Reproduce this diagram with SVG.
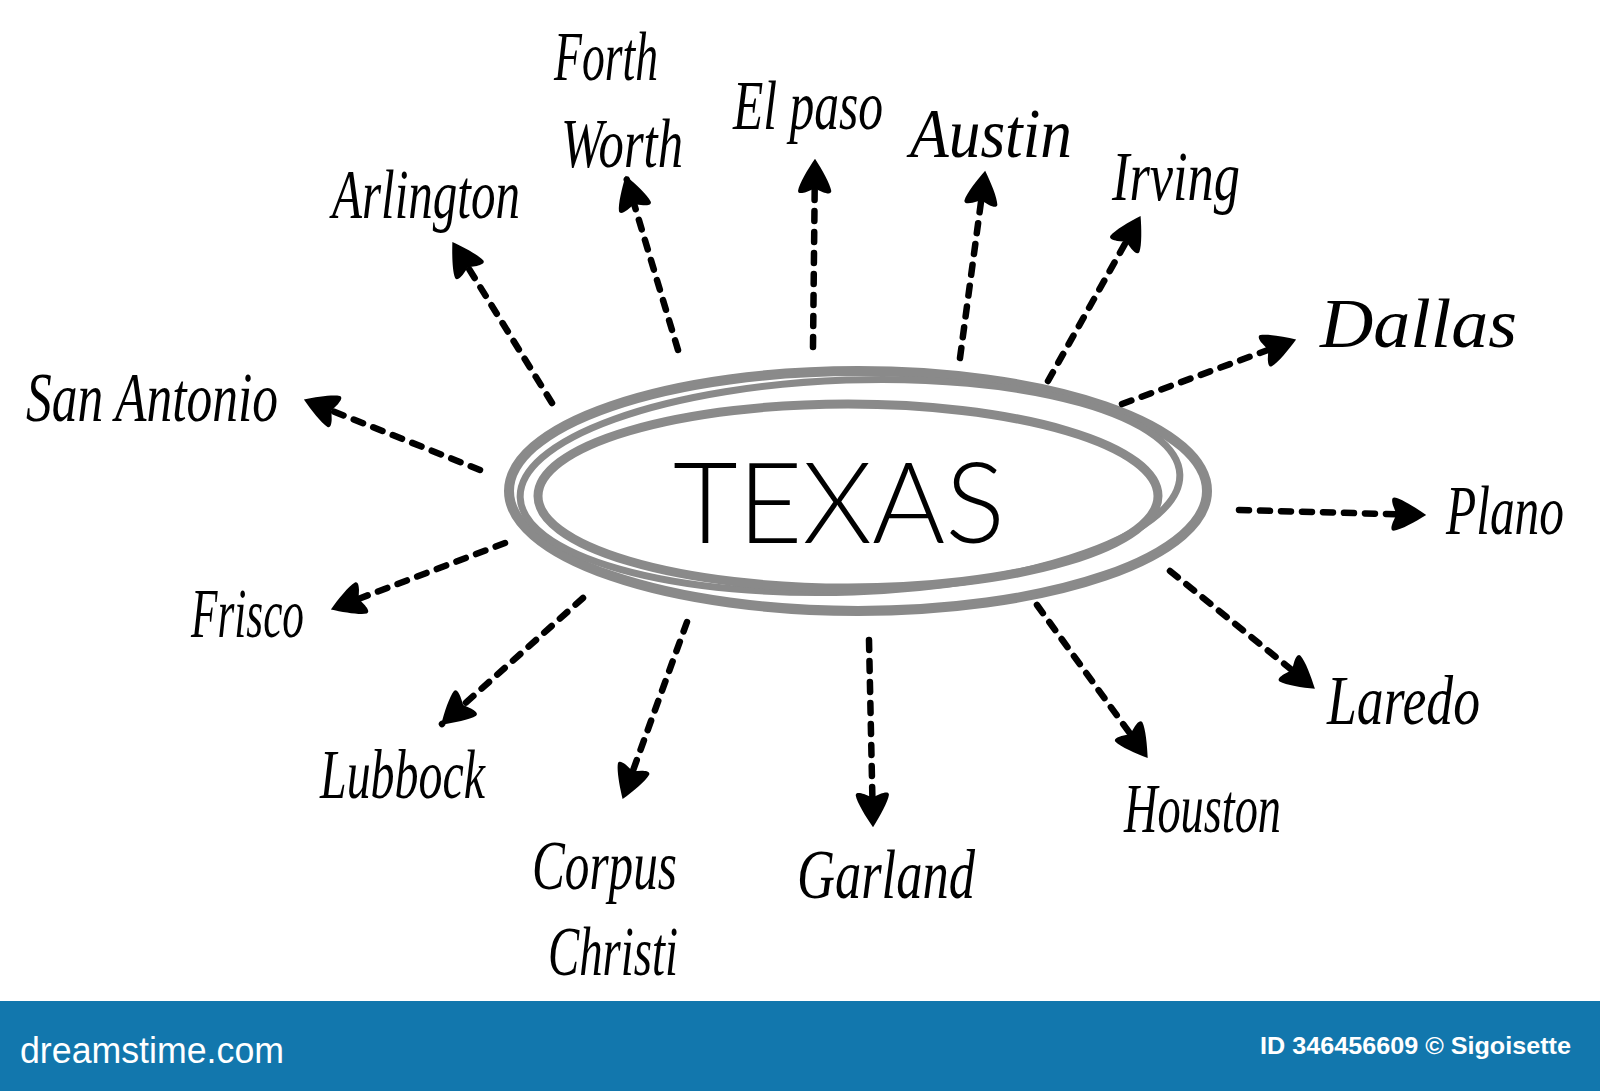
<svg xmlns="http://www.w3.org/2000/svg" width="1600" height="1091" viewBox="0 0 1600 1091">
<style>
.bg{fill:#ffffff}
.ring{fill:none;stroke:#8a8a8a;stroke-linecap:round}
.conn path{fill:none;stroke:#000;stroke-width:6.5;stroke-linecap:round;stroke-dasharray:10 11;marker-end:url(#head)}
.lbl{font-family:"Liberation Serif","DejaVu Serif",serif;font-style:italic;font-size:70px;fill:#000}
.title{font-family:"Lato","Liberation Sans",sans-serif;font-weight:300;font-size:112px;fill:#000}
.bar{fill:#1277ad}
.brand{font-family:"Liberation Sans","DejaVu Sans",sans-serif;font-size:36px;fill:#fff}
.credit{font-family:"Liberation Sans","DejaVu Sans",sans-serif;font-weight:bold;font-size:24px;fill:#fff}
</style>
<defs>
<marker id="head" markerUnits="userSpaceOnUse" viewBox="0 0 32 32" markerWidth="38" markerHeight="38" refX="30" refY="16" orient="auto">
<path d="M31,16 C22,10 10,3 4,2 C1,2 2,6 3,9 L6,16 L3,23 C2,26 1,30 4,30 C10,29 22,22 31,16 Z" fill="#000"/>
</marker>
</defs>
<rect class="bg" x="0" y="0" width="1600" height="1091"/>

<g id="texas">
<ellipse class="ring" cx="858" cy="491" rx="349" ry="120" stroke-width="10"/>
<ellipse class="ring" cx="850" cy="486" rx="330" ry="106" stroke-width="7" transform="rotate(-2 850 486)"/>
<ellipse class="ring" cx="848" cy="496" rx="310" ry="92" stroke-width="9"/>
<text class="title" x="673" y="543" textLength="332" lengthAdjust="spacingAndGlyphs">TEXAS</text>
</g>

<g id="connectors" class="conn">
<path d="M480,470 L305,400"/>
<path d="M552,403 L453,243"/>
<path d="M678,350 L626,177"/>
<path d="M813,347 L815,160"/>
<path d="M960,358 L985,172"/>
<path d="M1048,381 L1140,217"/>
<path d="M1122,404 L1295,340"/>
<path d="M1239,510 L1425,515"/>
<path d="M1170,571 L1314,688"/>
<path d="M1037,605 L1147,757"/>
<path d="M869,640 L873,826"/>
<path d="M687,622 L623,798"/>
<path d="M583,598 L442,724"/>
<path d="M505,543 L332,609"/>
</g>

<g id="san-antonio"><text class="lbl" x="26" y="421" textLength="252" lengthAdjust="spacingAndGlyphs">San Antonio</text></g>
<g id="arlington"><text class="lbl" x="332" y="218" textLength="188" lengthAdjust="spacingAndGlyphs">Arlington</text></g>
<g id="forth-worth">
<text class="lbl" x="554" y="80" textLength="104" lengthAdjust="spacingAndGlyphs">Forth</text>
<text class="lbl" x="561" y="167" textLength="122" lengthAdjust="spacingAndGlyphs">Worth</text>
</g>
<g id="el-paso"><text class="lbl" x="733" y="129" textLength="150" lengthAdjust="spacingAndGlyphs">El paso</text></g>
<g id="austin"><text class="lbl" x="910" y="157" textLength="162" lengthAdjust="spacingAndGlyphs">Austin</text></g>
<g id="irving"><text class="lbl" x="1112" y="200" textLength="128" lengthAdjust="spacingAndGlyphs">Irving</text></g>
<g id="dallas"><text class="lbl" x="1320" y="347" textLength="197" lengthAdjust="spacingAndGlyphs">Dallas</text></g>
<g id="plano"><text class="lbl" x="1446" y="534" textLength="118" lengthAdjust="spacingAndGlyphs">Plano</text></g>
<g id="laredo"><text class="lbl" x="1327" y="724" textLength="153" lengthAdjust="spacingAndGlyphs">Laredo</text></g>
<g id="houston"><text class="lbl" x="1124" y="832" textLength="157" lengthAdjust="spacingAndGlyphs">Houston</text></g>
<g id="garland"><text class="lbl" x="797" y="898" textLength="178" lengthAdjust="spacingAndGlyphs">Garland</text></g>
<g id="corpus-christi">
<text class="lbl" x="532" y="889" textLength="145" lengthAdjust="spacingAndGlyphs">Corpus</text>
<text class="lbl" x="548" y="975" textLength="130" lengthAdjust="spacingAndGlyphs">Christi</text>
</g>
<g id="lubbock"><text class="lbl" x="320" y="798" textLength="165" lengthAdjust="spacingAndGlyphs">Lubbock</text></g>
<g id="frisco"><text class="lbl" x="191" y="637" textLength="113" lengthAdjust="spacingAndGlyphs">Frisco</text></g>

<g id="footer">
<rect class="bar" x="0" y="1001" width="1600" height="90"/>
<text class="brand" x="20" y="1063" textLength="264" lengthAdjust="spacingAndGlyphs">dreamstime.com</text>
<text class="credit" x="1260" y="1054" textLength="311" lengthAdjust="spacingAndGlyphs">ID 346456609 © Sigoisette</text>
</g>
</svg>
